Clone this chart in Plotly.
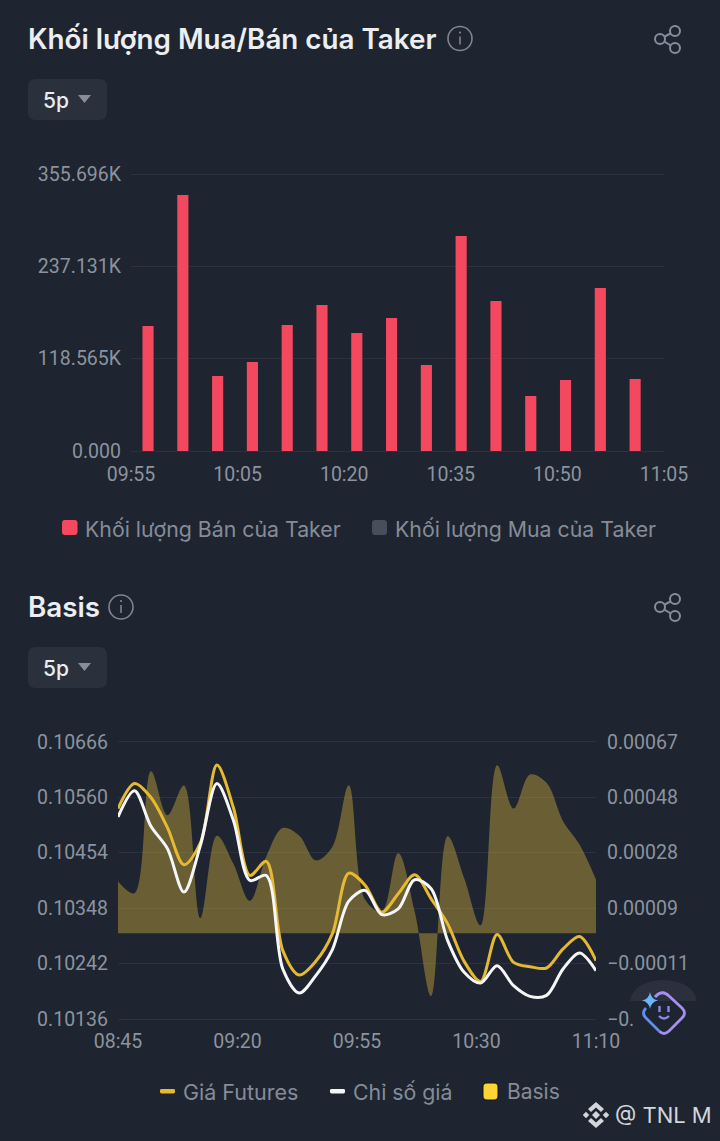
import plotly.graph_objects as go

# ---------- data ----------
taker_bar_times = ["10:00","10:05","10:10","10:15","10:20","10:25","10:30","10:35","10:40","10:45","10:50","10:55","11:00","11:05","11:10"]
taker_sell_k = [160.5,328.7,96.3,114.3,161.8,187.5,151.5,170.8,110.4,276.0,192.6,70.6,91.2,209.3,92.5]
taker_buy_k = [None]*15
taker_y_ticks = [0.0,118.565,237.131,355.696]
taker_y_text = ["0.000","118.565K","237.131K","355.696K"]
taker_x_text = ["09:55","10:05","10:20","10:35","10:50","11:05"]

futures_price = [.105382,.105861,.105593,.105018,.104309,.104724,.106213,.105401,.104104,.104373,
                 .102667,.102201,.102462,.102986,.104149,.103913,.103402,.103753,.104117,.103657,
                 .103178,.102462,.102079,.102974,.102443,.102360,.102335,.102699,.102935,.102475]
index_price = [.105222,.105721,.105044,.104616,.103785,.104679,.105861,.105159,.104009,.104104,
               .102315,.101855,.102188,.102680,.103612,.103817,.103357,.103465,.104021,.103849,
               .102859,.102252,.102047,.102379,.101996,.101792,.101811,.102315,.102622,.102284]
basis_values = [.000181,.000140,.000567,.000413,.000517,.000053,.000341,.000243,.000113,.000269,
                .000368,.000341,.000255,.000302,.000518,.000117,.000076,.000281,.000076,-.000220,
                .000339,.000193,.000027,.000588,.000436,.000555,.000526,.000392,.000310,.000187]
basis_left_ticks = [0.10136,0.10242,0.10348,0.10454,0.10560,0.10666]
basis_left_text = ["0.10136","0.10242","0.10348","0.10454","0.10560","0.10666"]
basis_right_ticks = [-0.00030,-0.000106,0.000088,0.000282,0.000476,0.00067]
basis_right_text = ["\u22120.","\u22120.00011","0.00009","0.00028","0.00048","0.00067"]
basis_x_text = ["08:45","09:20","09:55","10:30","11:10"]

# ---------- style ----------
W, H = 720, 1141
BG = "#1e2530"; GRID = "#2b323e"; AXT = "#8c939e"; LEG = "#858c98"
FONT = "Inter"; TICKFONT = "Roboto"
RED = "#f4485f"; YEL = "#e6b932"; WHT = "#f5f6f8"

def px(x): return x / W
def py(y): return 1 - y / H
def path(cmds):
    out = []
    for c in cmds:
        if isinstance(c, str): out.append(c)
        else: out.append(f"{px(c[0]):.5f},{py(c[1]):.5f}")
    return " ".join(out)

shapes, annos = [], []
def sh_path(cmds, fill=None, line=None, lw=0):
    shapes.append(dict(type="path", xref="paper", yref="paper", path=path(cmds),
                       fillcolor=fill or "rgba(0,0,0,0)",
                       line=dict(color=line or "rgba(0,0,0,0)", width=lw)))
def circle(cx, cy, r, fill=None, line=None, lw=0):
    shapes.append(dict(type="circle", xref="paper", yref="paper", x0=px(cx-r), x1=px(cx+r),
                       y0=py(cy+r), y1=py(cy-r), fillcolor=fill or "rgba(0,0,0,0)",
                       line=dict(color=line or "rgba(0,0,0,0)", width=lw)))
def rrect(x0, y0, x1, y1, r, fill, line=None, lw=0):
    sh_path(["M",(x0+r,y0),"L",(x1-r,y0),"Q",(x1,y0),(x1,y0+r),"L",(x1,y1-r),"Q",(x1,y1),(x1-r,y1),
             "L",(x0+r,y1),"Q",(x0,y1),(x0,y1-r),"L",(x0,y0+r),"Q",(x0,y0),(x0+r,y0),"Z"], fill, line, lw)
def text(x, y, s, size, color, weight=400, anchor="left"):
    annos.append(dict(xref="paper", yref="paper", x=px(x), y=py(y), text=s, showarrow=False,
                      xanchor=anchor, yanchor="middle", xshift=0, borderpad=0, borderwidth=0,
                      font=dict(family=FONT, size=size, color=color, weight=weight)))

def info_icon(cx, cy):
    circle(cx, cy, 12, None, "#7d8591", 1.6)
    circle(cx, cy-6, 1.1, "#7d8591")
    sh_path(["M",(cx,cy-2),"L",(cx,cy+6)], None, "#7d8591", 1.6)
def share_icon(cy):
    c = "#848e9c"
    sh_path(["M",(675,cy-8),"L",(660,cy),"L",(675,cy+9)], None, c, 2)
    for (a, b) in [(660,cy),(675,cy-8),(675,cy+9)]:
        circle(a, b, 5, BG, c, 2)
def pill(y0):
    rrect(28, y0, 107, y0+41, 8, "#2a313c")
    sh_path(["M",(78,y0+16),"L",(91,y0+16),"L",(84.5,y0+24),"Z"], "#848e9c")
    text(43, y0+21, "5p", 21, "#eaecef", 500)

# headers
text(28, 39, "Khối lượng Mua/Bán của Taker", 27.8, "#eceef1", 600)
info_icon(460, 38.5); share_icon(39); pill(79)
text(28, 607, "Basis", 27.8, "#eceef1", 600)
info_icon(121, 607); share_icon(607); pill(647)

# chart 1 legend
rrect(62, 520, 77.5, 535, 3, RED)
text(85, 528.5, "Khối lượng Bán của Taker", 21.3, LEG)
rrect(372, 520, 387, 535, 3, "#474e5c")
text(395, 528.5, "Khối lượng Mua của Taker", 21.3, LEG)

# chart 2 legend
rrect(160, 1089, 175, 1093.5, 1.5, YEL)
text(183, 1091.5, "Giá Futures", 21.5, LEG)
rrect(330, 1089, 345, 1093.5, 1.5, WHT)
text(353, 1091.5, "Chỉ số giá", 21.3, LEG)
rrect(483, 1083, 498, 1100, 4, "#fcd535", "#11151b", 1)
text(507, 1091.5, "Basis", 21, LEG)

# assistant badge
sh_path(["M",(630,1001),"Q",(634,981),(663,980),"Q",(693,981),(697,1001),"Z"], "#2c2f3e")
sh_path(["M",(655,997),"Q",(662,989),(669,996),"L",(682,1008),"Q",(687,1013),(682,1018),
         "L",(669,1031),"Q",(664,1036),(659,1031)], None, "#a78ff0", 2.8)
sh_path(["M",(659,1031),"L",(646,1018),"Q",(641,1013),(646,1008)], None, "#5f8fec", 2.8)
sh_path(["M",(650,992),"Q",(651,999),(658,1000.5),"Q",(651,1002),(650,1009),"Q",(649,1002),(642,1000.5),"Q",(649,999),(650,992),"Z"], "#6ab6f7")
sh_path(["M",(659.5,1006),"L",(659.5,1012)], None, "#8d86e6", 2.4)
sh_path(["M",(668.5,1006),"L",(668.5,1012)], None, "#8d86e6", 2.4)
sh_path(["M",(659,1016),"Q",(664,1021),(669,1016)], None, "#8d86e6", 2.4)

# watermark
wm = "#d2d5d9"
sh_path(["M",(596,1102),"L",(604,1109),"L",(601,1112),"L",(596,1107.5),"L",(591,1112),"L",(588,1109),"Z"], wm)
sh_path(["M",(596,1128),"L",(604,1121),"L",(601,1118),"L",(596,1122.5),"L",(591,1118),"L",(588,1121),"Z"], wm)
for cx, r in [(596,4),(586,3.2),(606,3.2)]:
    sh_path(["M",(cx,1115-r),"L",(cx+r,1115),"L",(cx,1115+r),"L",(cx-r,1115),"Z"], wm)
text(615, 1115, "@ TNL M", 22, wm)

# ---------- figure ----------
fig = go.Figure()
idx1 = list(range(len(taker_sell_k)))
fig.add_trace(go.Bar(x=idx1, y=taker_sell_k, name="Khối lượng Bán của Taker", marker_color=RED,
                     marker_line_width=0, width=0.32, customdata=taker_bar_times,
                     xaxis="x", yaxis="y"))
fig.add_trace(go.Bar(x=idx1, y=taker_buy_k, name="Khối lượng Mua của Taker", marker_color="#474e5c",
                     width=0.32, xaxis="x", yaxis="y"))
idx2 = list(range(len(basis_values)))
fig.add_trace(go.Scatter(x=idx2, y=basis_values, name="Basis", mode="lines", fill="tozeroy",
                         fillcolor="rgba(230,190,60,0.38)", line=dict(width=0, shape="spline", smoothing=1.0),
                         xaxis="x2", yaxis="y2"))
fig.add_trace(go.Scatter(x=idx2, y=futures_price, name="Giá Futures", mode="lines",
                         line=dict(color=YEL, width=3, shape="spline", smoothing=0.9),
                         xaxis="x2", yaxis="y3"))
fig.add_trace(go.Scatter(x=idx2, y=index_price, name="Chỉ số giá", mode="lines",
                         line=dict(color=WHT, width=3, shape="spline", smoothing=0.9),
                         xaxis="x2", yaxis="y3"))

r1 = (-0.49, 14.83)
tv1 = [r1[0] + i*(r1[1]-r1[0])/5 for i in range(6)]
tv2 = [i*29/4 for i in range(5)]
tick_font = dict(family=TICKFONT, size=19.5, color=AXT)
base_y = dict(showline=False, zeroline=False, ticks="", gridcolor=GRID, gridwidth=1, automargin=False, tickfont=tick_font)
base_x = dict(showline=False, zeroline=False, showgrid=False, ticks="", tickfont=tick_font,
              tickangle=0, automargin=False)

# y ranges pad 2 px past the outer ticks so the end gridlines are drawn
pad1 = 2 * 355.696 / 277
padR = 2 * 0.00097 / 277.3
padL = 2 * 0.0053 / 277.3

fig.update_layout(
    width=W, height=H, autosize=False, margin=dict(l=0, r=0, t=0, b=0, autoexpand=False),
    paper_bgcolor=BG, plot_bgcolor=BG, showlegend=False, barmode="overlay",
    font=dict(family=FONT),
    shapes=shapes, annotations=annos,
    xaxis=dict(base_x, domain=[px(131), px(664)], range=list(r1), tickmode="array", tickvals=tv1,
               ticktext=taker_x_text, anchor="y", ticklabelstandoff=7),
    yaxis=dict(base_y, domain=[py(453), py(172)], range=[-pad1, 355.696+pad1], tickmode="array",
               tickvals=taker_y_ticks, ticktext=taker_y_text, anchor="x", ticklabelstandoff=9),
    xaxis2=dict(base_x, domain=[px(118), px(596)], range=[0, 29], tickmode="array", tickvals=tv2,
                ticktext=basis_x_text, anchor="y2", ticklabelstandoff=6),
    yaxis2=dict(base_y, domain=[py(1021), py(739.7)], range=[-0.0003-padR, 0.00067+padR], tickmode="array",
                tickvals=basis_right_ticks, ticktext=basis_right_text, side="right", anchor="x2",
                ticklabelstandoff=10),
    yaxis3=dict(base_y, domain=[py(1021), py(739.7)], range=[0.10136-padL, 0.10666+padL], tickmode="array",
                tickvals=basis_left_ticks, ticktext=basis_left_text, side="left", anchor="x2",
                overlaying="y2", showgrid=False, ticklabelstandoff=9),
)

fig.write_html("out.html", config=dict(displayModeBar=False),
               post_script="document.body.style.margin='0';document.body.style.background='#1e2530';")
